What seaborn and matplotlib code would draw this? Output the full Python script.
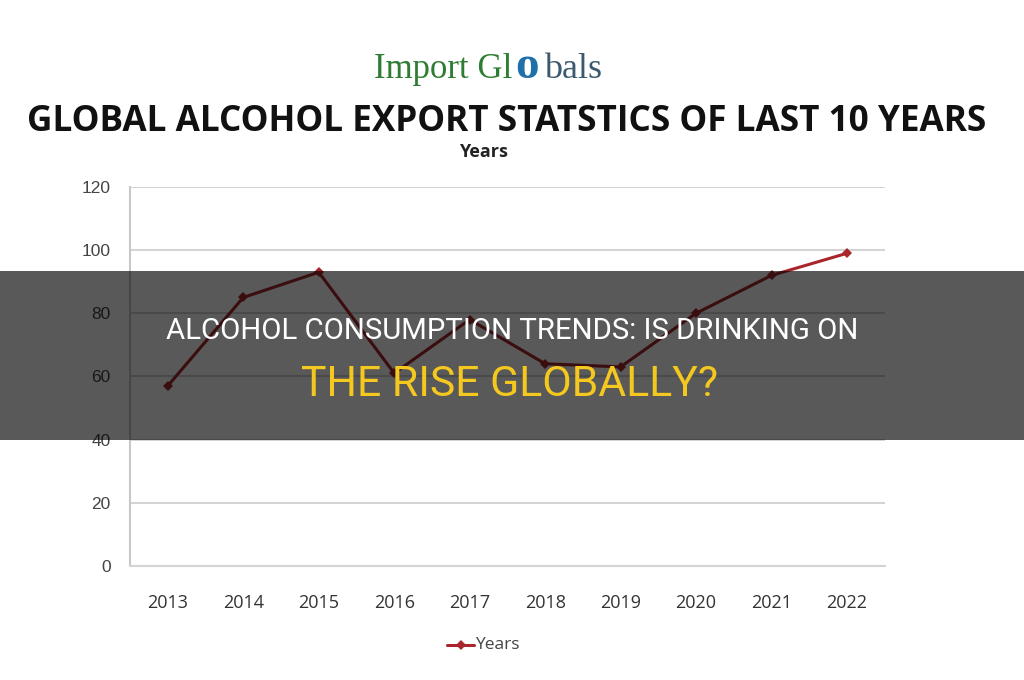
import matplotlib.pyplot as plt
import seaborn as sns
import pandas as pd
from matplotlib.patches import Rectangle

years = ["2013", "2014", "2015", "2016", "2017", "2018", "2019", "2020", "2021", "2022"]
values = [57, 85, 93, 61, 78, 64, 63, 80, 92, 99]
y_ticks = [0, 20, 40, 60, 80, 100, 120]

df = pd.DataFrame({"year": years, "value": values})

sns.set_style("white")
fig = plt.figure(figsize=(10.24, 6.8), dpi=100)
ax = fig.add_axes([0.127, 0.168, 0.737, 0.557])

sns.lineplot(data=df, x="year", y="value", ax=ax, color="#a8262c", linewidth=2.2,
             marker="D", markersize=5, markeredgewidth=0, sort=False)

ax.set_ylim(0, 120)
ax.set_xlim(-0.5, 9.5)
ax.set_yticks(y_ticks)
ax.grid(axis="y", color="#d4d4d4", linewidth=1.5)
ax.set_axisbelow(True)
for side in ["top", "right"]:
    ax.spines[side].set_visible(False)
ax.spines["left"].set_color("#c8c8c8")
ax.spines["bottom"].set_color("#d4d4d4")
ax.spines["left"].set_linewidth(1.5)
ax.spines["bottom"].set_linewidth(1.5)
ax.set_xlabel("")
ax.set_ylabel("")
ax.tick_params(axis="y", length=0, pad=14, labelsize=12.5, labelcolor="#444444")
ax.tick_params(axis="x", length=0, pad=20, labelsize=13, labelcolor="#333333")
for t in ax.get_yticklabels():
    t.set_family("Liberation Sans")
for t in ax.get_xticklabels():
    t.set_family("Open Sans")

# logo
logo_y = 0.885
fig.text(0.5, logo_y, "Import Gl", fontsize=25, family="Liberation Serif", color="#2e7d32",
         ha="right", va="baseline")
fig.text(0.5145, logo_y, "o", fontsize=34, family="Liberation Serif", color="#1f6fa8",
         ha="center", va="baseline", fontweight="bold")
fig.text(0.531, logo_y, "bals", fontsize=26, family="Liberation Serif", color="#3c5a6e",
         ha="left", va="baseline")

fig.text(0.495, 0.821, "GLOBAL ALCOHOL EXPORT STATSTICS OF LAST 10 YEARS", fontsize=25.3,
         family="Open Sans", fontweight="bold", color="#111111", ha="center", va="center")
fig.text(0.472, 0.777, "Years", fontsize=13, family="Open Sans", fontweight="bold",
         color="#222222", ha="center", va="center")

# legend
fig.add_artist(plt.Line2D([0.437, 0.45, 0.463], [0.052, 0.052, 0.052], color="#a8262c",
                          linewidth=2.2, marker="D", markersize=5, markevery=[1],
                          markeredgewidth=0))
fig.text(0.464, 0.052, "Years", fontsize=12.5, family="Open Sans", color="#444444",
         ha="left", va="center")

# dark overlay band with headline
fig.add_artist(Rectangle((0, 0.353), 1, 0.248, transform=fig.transFigure,
                         facecolor="black", alpha=0.65, edgecolor="none"))
fig.text(0.5, 0.513, "ALCOHOL CONSUMPTION TRENDS: IS DRINKING ON", fontsize=21.2,
         family="Roboto", color="white", ha="center", va="center")
fig.text(0.498, 0.434, "THE RISE GLOBALLY?", fontsize=30.8, family="Roboto", color="#f4c81e",
         ha="center", va="center")

fig.savefig("out.png", dpi=100)
